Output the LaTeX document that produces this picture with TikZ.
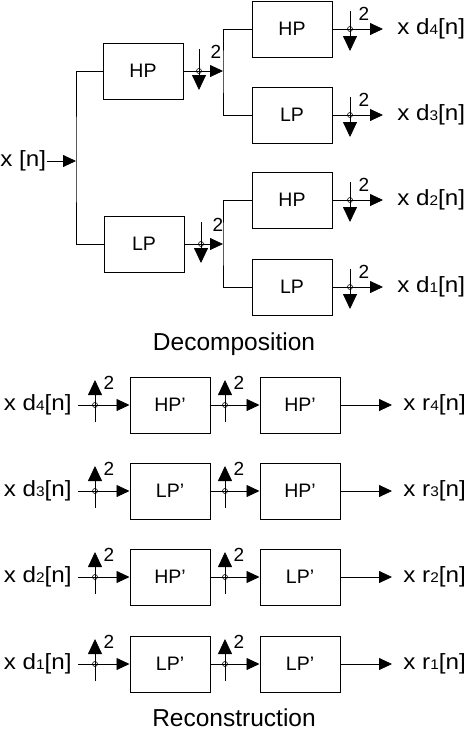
\documentclass[tikz,border=0pt]{standalone}
\usepackage{fontspec}
\setmainfont{Liberation Sans}
\newfontfamily\widefont[FakeStretch=1.1]{Liberation Sans}
\usetikzlibrary{arrows.meta,positioning}
\newcommand{\dg}[1]{{\fontsize{14}{14}\selectfont #1}}

\begin{document}
\begin{tikzpicture}[x=1pt,y=-1pt,line width=0.8pt,
        filt/.style={draw,line width=1pt,minimum width=80pt,minimum height=56pt,inner sep=0pt,font=\fontsize{19.5}{19.5}\selectfont},
        lbl/.style={inner sep=0pt,font=\widefont\fontsize{22}{22}\selectfont},
        ttl/.style={inner sep=0pt,font=\fontsize{24.5}{24.5}\selectfont},
        ring/.style={circle,draw,line width=0.6pt,minimum size=5pt,inner sep=0pt},
        two/.style={inner sep=0pt,font=\fontsize{19}{19}\selectfont},
        tip/.style={-{Triangle[length=13pt,width=12pt]}},
        bigtip/.style={-{Triangle[length=15pt,width=14pt]}},]
        \useasboundingbox (0,0) rectangle (468,732);

        % decomposition, first level
        \node[lbl,anchor=west] (xin) at (0,161) {x [n]};
        \coordinate (j0) at (76,161);
        \draw[tip] (xin) -- (j0);
        \node[filt] (hp1) at (143,71) {HP};
        \node[filt] (lp1) at (144,244) {LP};
        \draw (hp1.west) -| (j0) |- (lp1.west);

        % down by 2
        \coordinate (j1) at (223,71);
        \coordinate (j2) at (223,244);
        \draw[tip] (hp1) -- (j1);
        \draw[tip] (lp1) -- (j2);
        \foreach \n/\x/\y in {a/199/71,b/201/244}
        {
        \node[ring] (dn\n) at (\x,\y) {};
        \draw[bigtip] ([yshift=22pt]dn\n.center) -- ([yshift=-19pt]dn\n.center);
        \node[two] (two\n) at (\x+17,\y-19) {2};
        }

        % second level
        \node[filt] (hp2a) at (292,29) {HP};
        \node[filt] (lp2a) at (292,115) {LP};
        \node[filt] (hp2b) at (292,200) {HP};
        \node[filt] (lp2b) at (292,287) {LP};
        \draw (hp2a.west) -| (j1) |- (lp2a.west);
        \draw (hp2b.west) -| (j2) |- (lp2b.west);

        \foreach \b/\y/\d in {hp2a/29/4,lp2a/115/3,hp2b/200/2,lp2b/287/1}
        {
        \node[lbl,anchor=west] (d\d) at (397,\y) {x d\dg{\d}[n]};
        \draw[tip,shorten >=14pt] (\b) -- (d\d);
        \node[ring] (dd\d) at (350,\y) {};
        \draw[bigtip] ([yshift=18pt]dd\d.center) -- ([yshift=-22pt]dd\d.center);
        \node[two] (tw\d) at (364,\y-15) {2};
        }

        \node[ttl,anchor=base] (dec) at (234,350) {Decomposition};

        % reconstruction
        \foreach \r/\y/\a/\b in {4/405/HP/HP,3/491/LP/HP,2/577/HP/LP,1/664/LP/LP}
        {
        \node[lbl,anchor=east] (in\r) at (72,\y) {x d\dg{\r}[n]};
        \node[filt] (fa\r) at (170,\y) {\a'};
        \node[filt] (fb\r) at (300,\y) {\b'};
        \node[lbl,anchor=west] (out\r) at (403,\y) {x r\dg{\r}[n]};
        \draw[tip,shorten <=6pt] (in\r) -- (fa\r);
        \draw[tip] (fa\r) -- (fb\r);
        \draw[tip,shorten >=11pt] (fb\r) -- (out\r);
        \foreach \u/\x in {a/95,b/225}
        {
        \node[ring] (u\u\r) at (\x,\y) {};
        \draw[bigtip] ([yshift=-17pt]u\u\r.center) -- ([yshift=25pt]u\u\r.center);
        \node[two] (t\u\r) at (\x+14,\y-22) {2};
        }
        }

        \node[ttl,anchor=base] (rec) at (234,726) {Reconstruction};
\end{tikzpicture}
\end{document}
